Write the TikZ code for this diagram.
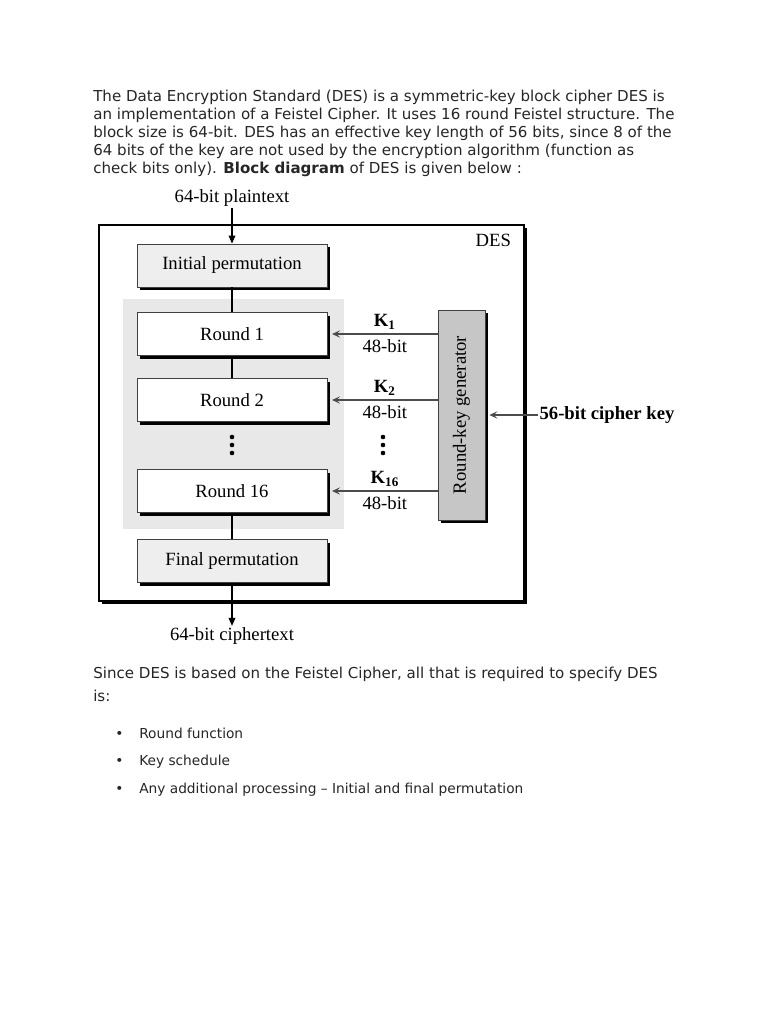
\documentclass[tikz,border=0pt]{standalone}
\usepackage{fontspec}
\setmainfont{Liberation Serif}
\newfontfamily\pagefont{DejaVu Sans}
\usetikzlibrary{arrows.meta,shadows}

\begin{document}
\begin{tikzpicture}[x=0.75pt,y=-0.75pt,
    txt/.style={anchor=base west,inner sep=0pt,font=\pagefont\fontsize{11.3}{13}\selectfont,text=black!85},
    itemtxt/.style={txt,font=\pagefont\fontsize{10.3}{12}\selectfont},
    lbl/.style={font=\fontsize{14}{16}\selectfont,inner sep=1pt},
    stage/.style={draw=black!75,line width=0.6pt,minimum width=142.5pt,minimum height=32.25pt,
      font=\fontsize{14}{16}\selectfont,
      drop shadow={shadow xshift=2.3pt,shadow yshift=-2.3pt,opacity=1,fill=black}},
    perm/.style={stage,fill=gray!13},
    roundbox/.style={stage,fill=white},
    keygen/.style={stage,fill=gray!45,minimum width=35.25pt,minimum height=157.5pt},
    desbox/.style={draw=black,line width=0.8pt,fill=white,minimum width=318.75pt,minimum height=282pt,
      drop shadow={shadow xshift=2.6pt,shadow yshift=-2.6pt,opacity=1,fill=black}},
    band/.style={fill=gray!18,minimum width=165.75pt,minimum height=172.5pt},
    flow/.style={line width=0.9pt,-{Triangle[length=6pt,width=5pt]}},
    link/.style={line width=0.9pt},
    keyline/.style={draw=black!70,line width=0.8pt,-{Stealth[length=6pt,width=5.5pt,inset=2.5pt]}}]
  \useasboundingbox[fill=white] (0,0) rectangle (768,1024);

  % text above the diagram
  \node[txt] (p1) at (93,101) {The Data Encryption Standard (DES) is a symmetric-key block cipher DES is};
  \node[txt] (p2) at (93,119.2) {an implementation of a Feistel Cipher. It uses 16 round Feistel structure. The};
  \node[txt] (p3) at (93,137.4) {block size is 64-bit. DES has an effective key length of 56 bits, since 8 of the};
  \node[txt] (p4) at (93,155.6) {64 bits of the key are not used by the encryption algorithm (function as};
  \node[txt] (p5) at (93,173.8) {check bits only). \textbf{Block diagram} of DES is given below :};

  % DES block diagram
  \node[lbl] (plain) at (232,198) {64-bit plaintext};
  \node[desbox] (des) at (311.5,413) {};
  \node[band] (rounds) at (233.5,414) {};
  \node[lbl,anchor=north east] (deslbl) at ([xshift=-9pt,yshift=-6pt]des.north east) {DES};
  \node[perm] (ip) at (232,265.5) {Initial permutation};
  \node[roundbox] (r1) at (232,334) {Round 1};
  \node[roundbox] (r2) at (232,400) {Round 2};
  \node[roundbox] (r16) at (232,491) {Round 16};
  \node[perm] (fp) at (232,561) {Final permutation};
  \node[lbl] (cipher) at (232,636) {64-bit ciphertext};
  \node[keygen] (rkg) at (461.5,415) {\rotatebox{90}{Round-key generator}};
  \node[lbl,font=\fontsize{14}{16}\selectfont\bfseries,anchor=west] (key) at (538,415) {56-bit cipher key};

  \draw[flow] (plain) -- (ip);
  \draw[link] (ip) -- (r1);
  \draw[link] (r1) -- (r2);
  \draw[link] (r16) -- (fp);
  \draw[flow] (fp) -- (cipher);
  \foreach \r/\k in {r1/1,r2/2,r16/16}
    \draw[keyline] (\r -| rkg.west) -- node[lbl,above=2pt]{\textbf{K\textsubscript{\k}}}
      node[lbl,below=3pt]{48-bit} ([xshift=3.5pt]\r.east);
  \draw[keyline] (key) -- ([xshift=3pt]rkg.east);
  \foreach \y in {437,445,453} {
    \fill (232,\y) circle (2.3);
    \fill (383,\y) circle (2.3);
  }

  % text below the diagram
  \node[txt] (q1) at (93,678) {Since DES is based on the Feistel Cipher, all that is required to specify DES};
  \node[txt] (q2) at (93,701) {is:};
  \foreach \y/\item [count=\i] in {738/Round function,765/Key schedule,793/Any additional processing – Initial and final permutation} {
    \node[itemtxt] (b\i) at (115,\y) {•};
    \node[itemtxt] (t\i) at (139,\y) {\item};
  }
\end{tikzpicture}
\end{document}
